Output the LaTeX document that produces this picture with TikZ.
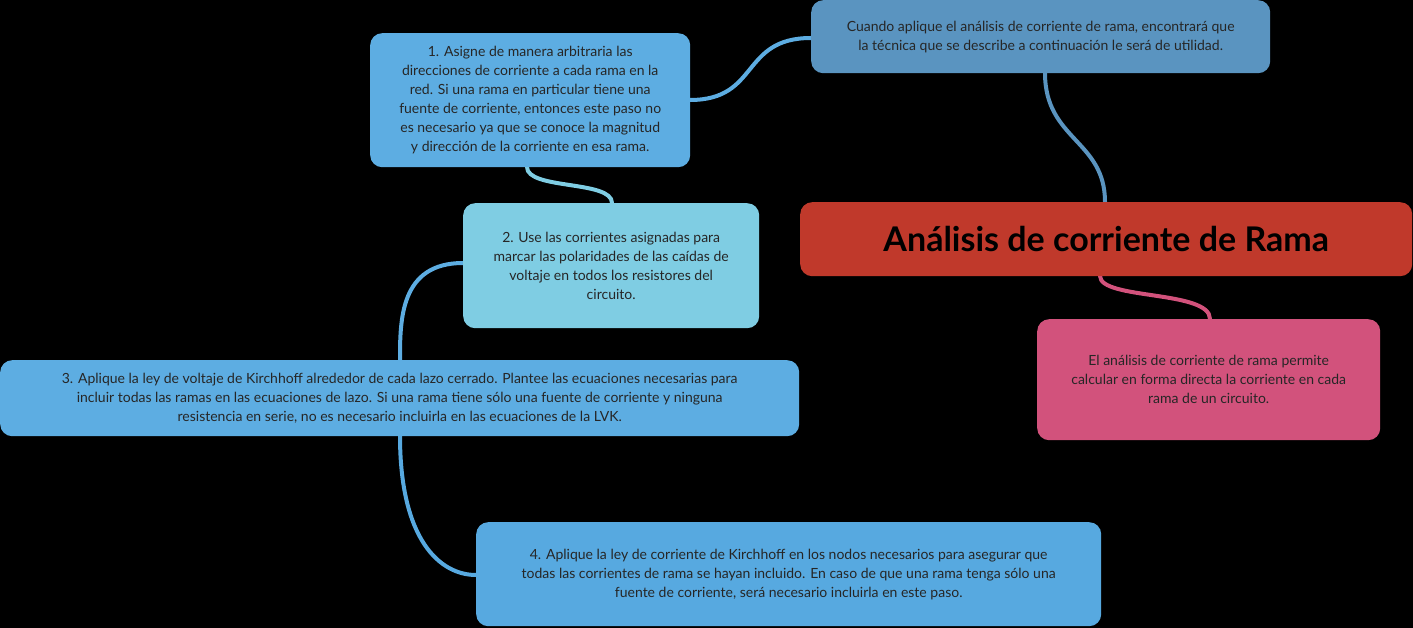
\documentclass[tikz,border=0pt]{standalone}
\usepackage{fontspec}
\setmainfont{Lato}
\begin{document}
\begin{tikzpicture}[x=1pt,y=-1pt,
 box/.style={rounded corners=12pt,inner sep=0pt,align=center,text=black!85,font=\fontsize{14}{19}\selectfont},
 conn/.style={line width=4pt,line cap=round}]
\useasboundingbox[fill=black] (0,0) rectangle (1413,628);
\definecolor{cTop}{HTML}{5A94C0}
\definecolor{cRed}{HTML}{C0392B}
\definecolor{cBlue}{HTML}{5DADE2}
\definecolor{cCyan}{HTML}{7FCDE3}
\definecolor{cPink}{HTML}{D2527C}
\definecolor{cB3}{HTML}{57A9E0}
% connectors
\coordinate (a1) at (1045,73); \coordinate (a2) at (1105,202);
\draw[conn,cTop] (a1) .. controls (1045,140) and (1105,140) .. (a2);
\coordinate (b1) at (811,38); \coordinate (b2) at (690,100);
\draw[conn,cBlue] (b1) .. controls (740,38) and (760,100) .. (b2);
\coordinate (c1) at (527,167); \coordinate (c2) at (612,203);
\draw[conn,cCyan] (c1) .. controls (527,190) and (612,180) .. (c2);
\coordinate (d1) at (463,263); \coordinate (d2) at (400,360);
\draw[conn,cBlue] (d1) .. controls (400,263) and (400,320) .. (d2);
\coordinate (e1) at (400,436); \coordinate (e2) at (476,575);
\draw[conn,cB3] (e1) .. controls (400,540) and (440,575) .. (e2);
\coordinate (f1) at (1100,276); \coordinate (f2) at (1210,319);
\draw[conn,cPink] (f1) .. controls (1100,300) and (1210,290) .. (f2);
% boxes
\node[box,fill=cTop,minimum width=459pt,minimum height=73pt,anchor=north west] (top) at (811,0)
 {Cuando aplique el análisis de corriente de rama, encontrará que\\la técnica que se describe a continuación le será de utilidad.};
\node[box,fill=cRed,minimum width=612pt,minimum height=74pt,anchor=north west,font=\fontsize{34}{40}\selectfont\bfseries,text=black] (main) at (800,202)
 {Análisis de corriente de Rama};
\node[box,fill=cBlue,minimum width=320pt,minimum height=134pt,anchor=north west] (n1) at (370,33)
 {1. Asigne de manera arbitraria las\\direcciones de corriente a cada rama en la\\red. Si una rama en particular tiene una\\fuente de corriente, entonces este paso no\\es necesario ya que se conoce la magnitud\\y dirección de la corriente en esa rama.};
\node[box,fill=cCyan,minimum width=296pt,minimum height=125pt,anchor=north west] (n2) at (463,203)
 {2. Use las corrientes asignadas para\\marcar las polaridades de las caídas de\\voltaje en todos los resistores del\\circuito.};
\node[box,fill=cBlue,minimum width=799pt,minimum height=76pt,anchor=north west] (n3) at (0,360)
 {3. Aplique la ley de voltaje de Kirchhoff alrededor de cada lazo cerrado. Plantee las ecuaciones necesarias para\\incluir todas las ramas en las ecuaciones de lazo. Si una rama tiene sólo una fuente de corriente y ninguna\\resistencia en serie, no es necesario incluirla en las ecuaciones de la LVK.};
\node[box,fill=cB3,minimum width=625pt,minimum height=104pt,anchor=north west] (n4) at (476,522)
 {4. Aplique la ley de corriente de Kirchhoff en los nodos necesarios para asegurar que\\todas las corrientes de rama se hayan incluido. En caso de que una rama tenga sólo una\\fuente de corriente, será necesario incluirla en este paso.};
\node[box,fill=cPink,minimum width=343pt,minimum height=121pt,anchor=north west] (pk) at (1037,319)
 {El análisis de corriente de rama permite\\calcular en forma directa la corriente en cada\\rama de un circuito.};
\end{tikzpicture}
\end{document}
